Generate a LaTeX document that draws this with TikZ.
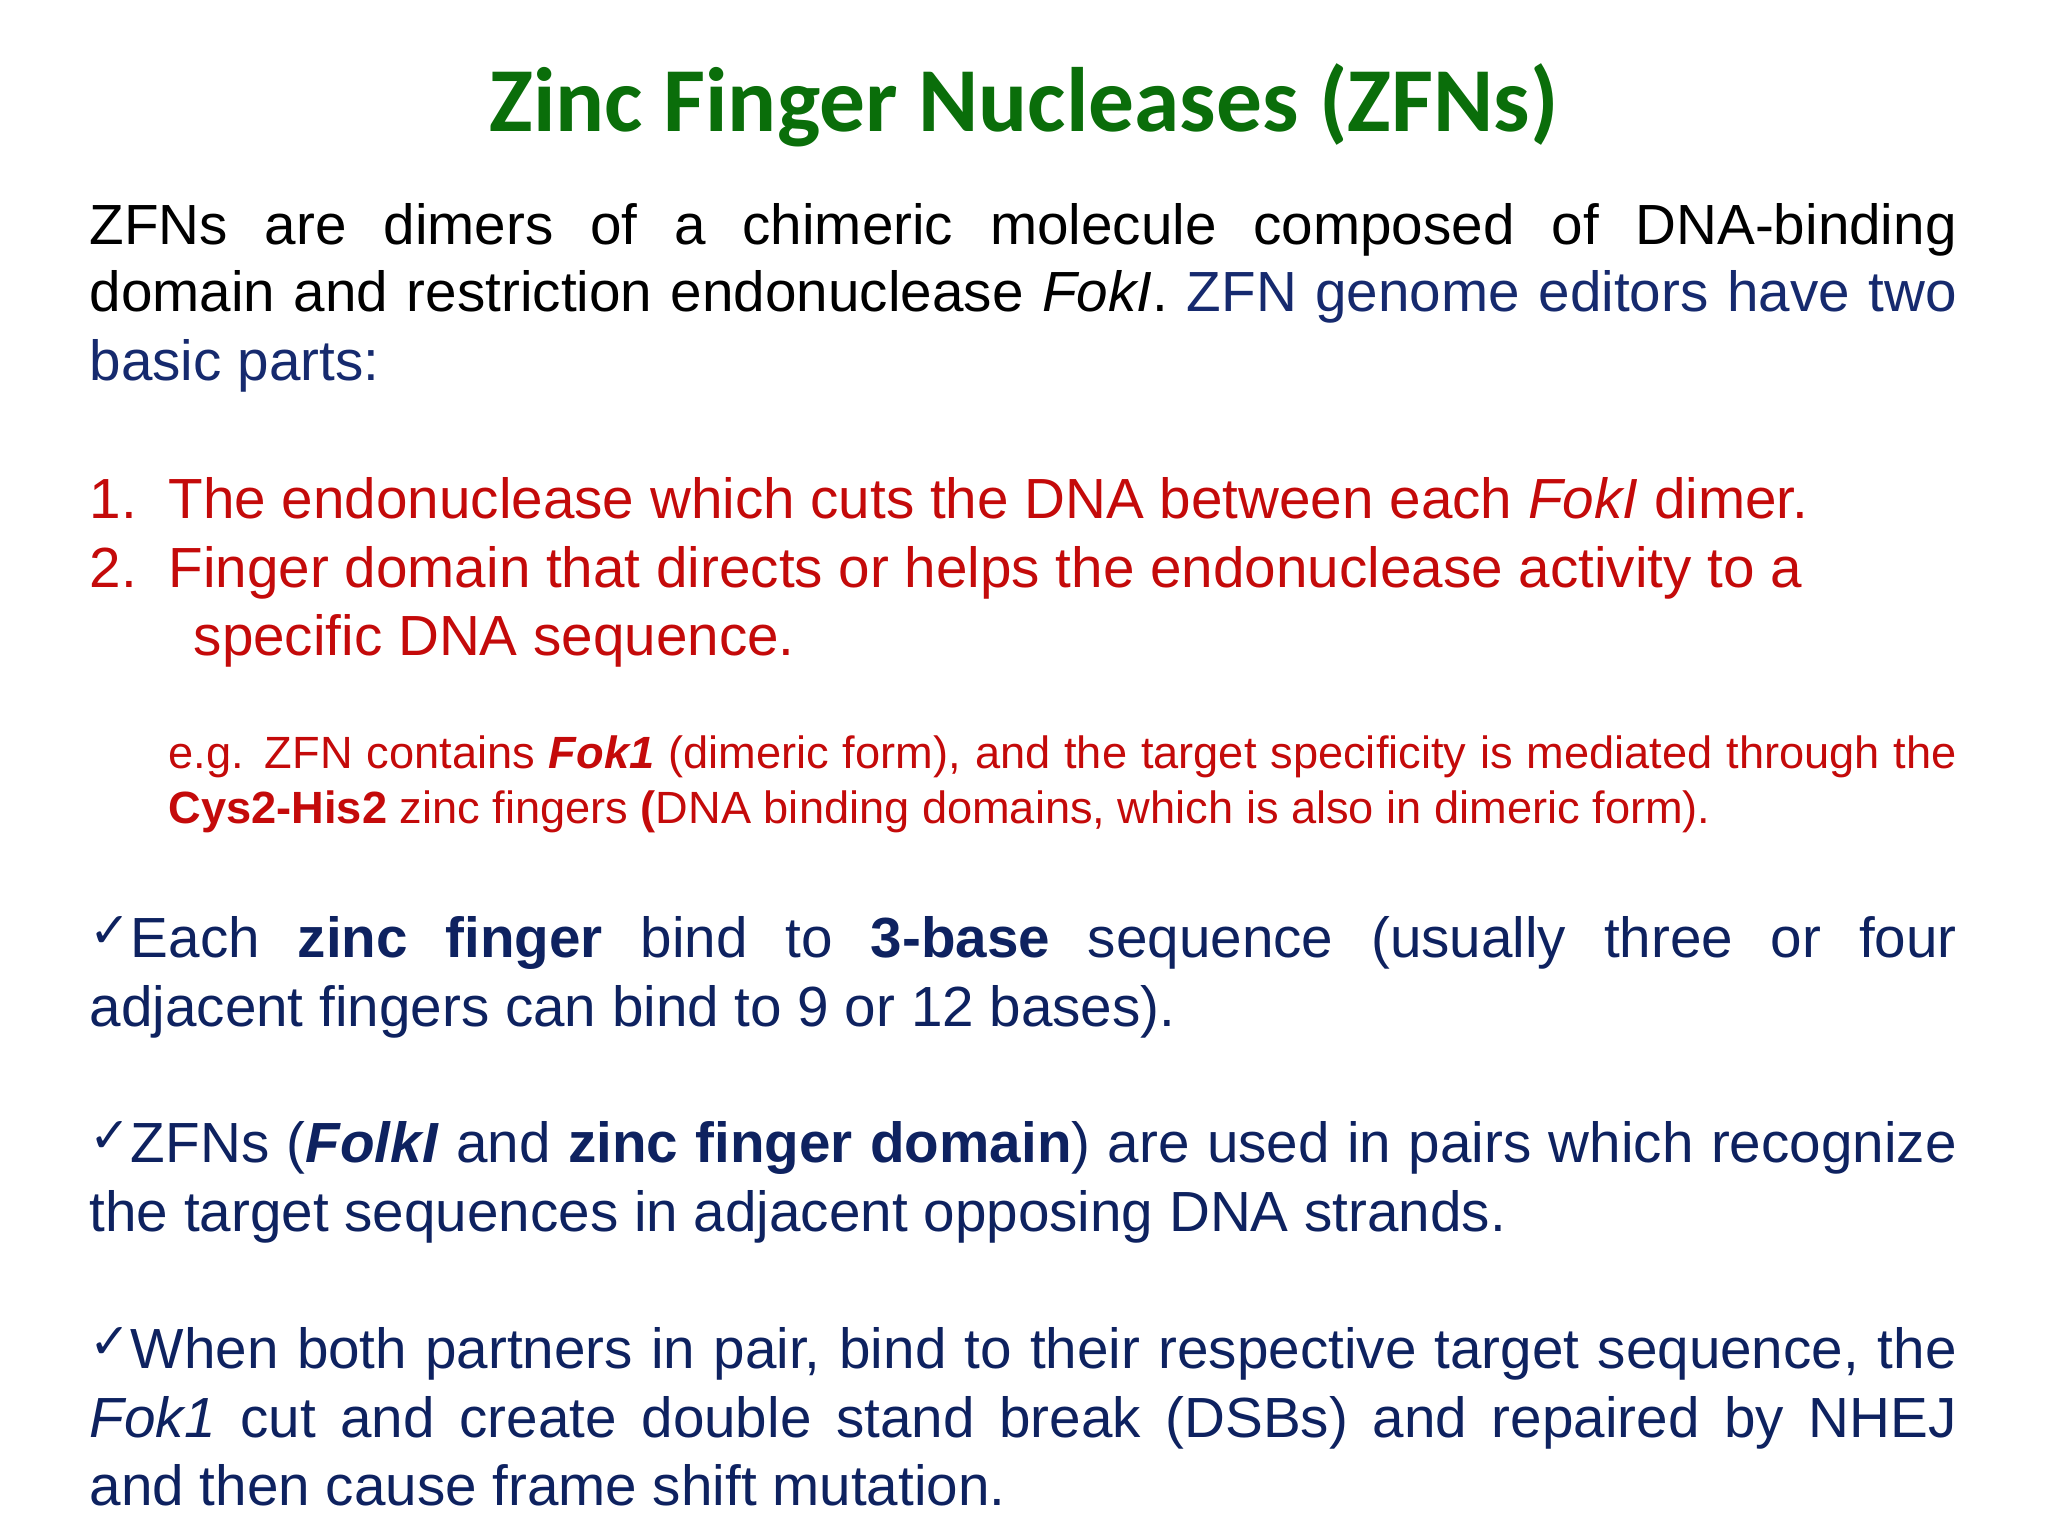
\documentclass[tikz,border=0pt]{standalone}
\usepackage{fontspec}
\setmainfont{Liberation Sans}
\newfontfamily\titlefont{Carlito}
\newfontfamily\symfont{DejaVu Sans}
\definecolor{titlegreen}{RGB}{10,110,10}
\definecolor{navyblue}{RGB}{22,42,110}
\definecolor{darknavy}{RGB}{14,34,96}
\definecolor{itemred}{RGB}{196,10,10}
\newcommand{\jline}[1]{\makebox[18.66cm][s]{#1}}
\newcommand{\tick}{{\symfont\raisebox{0.3ex}{\fontsize{14}{14}\selectfont ✓}}}
\begin{document}
\begin{tikzpicture}[x=0.01cm,y=-0.01cm,
    body/.style={anchor=base west,inner sep=0pt,font=\fontsize{16.1}{19}\selectfont},
    small/.style={anchor=base west,inner sep=0pt,font=\fontsize{12.85}{15}\selectfont,text=itemred}]
  \useasboundingbox (0,0) rectangle (2048,1536);
  \node[anchor=base,inner sep=0pt,text=titlegreen,font=\titlefont\bfseries\fontsize{26}{31}\selectfont] (title) at (1024,131) {Zinc Finger Nucleases (ZFNs)};
  % introduction
  \node[body] (l1) at (89,244) {\jline{ZFNs are dimers of a chimeric molecule composed of DNA-binding}};
  \node[body] (l2) at (89,311) {\jline{domain and restriction endonuclease \textit{FokI}. \textcolor{navyblue}{ZFN genome editors have two}}};
  \node[body,text=navyblue] (l3) at (89,380) {basic parts:};
  % the two parts
  \node[body,text=itemred] (n1) at (89,518) {1.};
  \node[body,text=itemred] (i1) at (168,518) {The endonuclease which cuts the DNA between each \textit{FokI} dimer.};
  \node[body,text=itemred] (n2) at (89,587) {2.};
  \node[body,text=itemred] (i2) at (168,587) {Finger domain that directs or helps the endonuclease activity to a};
  \node[body,text=itemred] (i3) at (193,655) {specific DNA sequence.};
  % example
  \node[small] (e1) at (168,768) {\makebox[17.87cm][s]{e.g. ZFN contains \textbf{\textit{Fok1}} (dimeric form), and the target specificity is mediated through the}};
  \node[small] (e2) at (168,823) {\textbf{Cys2-His2} zinc fingers \textbf{(}DNA binding domains, which is also in dimeric form).};
  % checked points
  \node[body,text=darknavy] (c1) at (89,957) {\jline{\tick Each \textbf{zinc finger} bind to \textbf{3-base} sequence (usually three or four}};
  \node[body,text=darknavy] (c1b) at (89,1026) {adjacent fingers can bind to 9 or 12 bases).};
  \node[body,text=darknavy] (c2) at (89,1162) {\jline{\tick ZFNs (\textbf{\textit{FolkI}} and \textbf{zinc finger domain}) are used in pairs which recognize}};
  \node[body,text=darknavy] (c2b) at (89,1231) {the target sequences in adjacent opposing DNA strands.};
  \node[body,text=darknavy] (c3) at (89,1368) {\jline{\tick When both partners in pair, bind to their respective target sequence, the}};
  \node[body,text=darknavy] (c3b) at (89,1437) {\jline{\textit{Fok1} cut and create double stand break (DSBs) and repaired by NHEJ}};
  \node[body,text=darknavy] (c3c) at (89,1505) {and then cause frame shift mutation.};
\end{tikzpicture}
\end{document}
